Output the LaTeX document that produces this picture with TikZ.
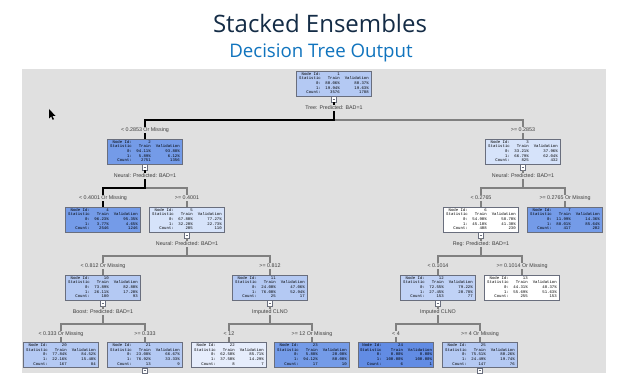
\documentclass[tikz,border=0pt]{standalone}
\usepackage{fontspec}
\setmainfont{Liberation Sans}
\newfontfamily\titlefont{Open Sans}
\newfontfamily\tabfont{Liberation Mono}
\definecolor{panel}{RGB}{224,224,224}
\definecolor{titlec}{RGB}{20,44,70}
\definecolor{subc}{RGB}{16,116,190}
\definecolor{labelc}{RGB}{60,60,60}
\definecolor{linec}{RGB}{128,128,128}
\definecolor{bordc}{RGB}{105,110,125}
\definecolor{cdarker}{RGB}{98,140,228}
\definecolor{cdark}{RGB}{116,155,232}
\definecolor{cmid}{RGB}{180,201,243}
\definecolor{cmidb}{RGB}{192,210,246}
\definecolor{clight}{RGB}{214,227,250}
\definecolor{cvlight}{RGB}{230,237,252}
\newcommand{\stats}[7]{\tabfont\fontsize{3pt}{3.45pt}\selectfont\begin{tabular}{@{}r@{\hspace{3.4pt}}r@{\hspace{3.75pt}}r@{}}Node Id: & #1 & \\ Statistic & Train & Validation\\ 0: & #2 & #3\\ 1: & #4 & #5\\ Count: & #6 & #7\end{tabular}}
\tikzset{
  tbox/.style={draw=bordc, line width=0.45pt, minimum width=56.25pt, minimum height=18.75pt, inner sep=0.4pt, text=black},
  sqr/.style={draw=bordc, fill=white, minimum size=4pt, inner sep=0pt, line width=0.35pt, anchor=north,
    path picture={\draw[line width=0.35pt, bordc] ([xshift=0.9pt]path picture bounding box.west) -- ([xshift=-0.9pt]path picture bounding box.east);}},
  thk/.style={line width=1.8pt, black},
  thn/.style={line width=0.8pt, linec},
  lbl/.style={fill=panel, inner sep=0.6pt, font=\fontsize{4pt}{4.5pt}\selectfont, text=labelc},
}
\begin{document}
\begin{tikzpicture}[x=0.75pt,y=-0.75pt]
\useasboundingbox (0,0) rectangle (627,388);
\fill[white] (0,0) rectangle (627,388);
\node[font=\titlefont\fontsize{18pt}{20pt}\selectfont, text=titlec, anchor=base, inner sep=0] (title) at (320,33) {Stacked Ensembles};
\node[font=\titlefont\fontsize{14pt}{16pt}\selectfont, text=subc, anchor=base, inner sep=0] (subtitle) at (321,58) {Decision Tree Output};
\fill[panel] (22,69) rectangle (606,373);
% cursor
\fill[black] (49,109) -- (49,118.5) -- (51.2,116.5) -- (52.7,119.8) -- (54,119.2) -- (52.5,116) -- (55.5,116) -- cycle;
% boxes
\node[tbox, fill=cmid] (n1) at (334,83.5) {\stats{1}{80.06\%}{80.37\%}{19.94\%}{19.63\%}{3576}{1788}};
\node[tbox, fill=cdark] (n2) at (145,151.5) {\stats{2}{94.11\%}{93.88\%}{5.89\%}{6.12\%}{2751}{1356}};
\node[tbox, fill=clight] (n3) at (523,151.5) {\stats{3}{33.21\%}{37.96\%}{66.79\%}{62.04\%}{825}{432}};
\node[tbox, fill=cdark] (n4) at (103,219.5) {\stats{4}{96.23\%}{95.35\%}{3.77\%}{4.65\%}{2546}{1246}};
\node[tbox, fill=clight] (n5) at (187,219.5) {\stats{5}{67.80\%}{77.27\%}{32.20\%}{22.73\%}{205}{110}};
\node[tbox, fill=white] (n6) at (481,219.5) {\stats{6}{54.90\%}{58.70\%}{45.10\%}{41.30\%}{408}{230}};
\node[tbox, fill=cdark] (n7) at (565,219.5) {\stats{7}{11.99\%}{14.36\%}{88.01\%}{85.64\%}{417}{202}};
\node[tbox, fill=cmid] (n10) at (103,287.5) {\stats{10}{73.89\%}{82.80\%}{26.11\%}{17.20\%}{180}{93}};
\node[tbox, fill=cmid] (n11) at (270,287.5) {\stats{11}{24.00\%}{47.06\%}{76.00\%}{52.94\%}{25}{17}};
\node[tbox, fill=cmidb] (n12) at (438,287.5) {\stats{12}{72.55\%}{79.22\%}{27.45\%}{20.78\%}{153}{77}};
\node[tbox, fill=white] (n13) at (522,287.5) {\stats{13}{44.31\%}{48.37\%}{55.69\%}{51.63\%}{255}{153}};
\node[tbox, fill=cmid] (n20) at (61,355) {\stats{20}{77.84\%}{84.52\%}{22.16\%}{15.48\%}{167}{84}};
\node[tbox, fill=cmid] (n21) at (145,355) {\stats{21}{23.08\%}{66.67\%}{76.92\%}{33.33\%}{13}{9}};
\node[tbox, fill=cvlight] (n22) at (229,355) {\stats{22}{62.50\%}{85.71\%}{37.50\%}{14.29\%}{8}{7}};
\node[tbox, fill=cdark] (n23) at (312,355) {\stats{23}{5.88\%}{20.00\%}{94.12\%}{80.00\%}{17}{10}};
\node[tbox, fill=cdarker] (n24) at (396,355) {\stats{24}{0.00\%}{0.00\%}{100.00\%}{100.00\%}{6}{1}};
\node[tbox, fill=cmid] (n25) at (480,355) {\stats{25}{75.51\%}{80.26\%}{24.49\%}{19.74\%}{147}{76}};
% expand squares
\foreach \k in {1,2,3,5,6,10,11,12,21,25} \node[sqr] (sq\k) at (n\k.south) {};
% junctions
\coordinate (j1) at (334,120);
\coordinate (j2) at (145,188);
\coordinate (j3) at (523,188);
\coordinate (j5) at (187,256);
\coordinate (j6) at (481,256);
\coordinate (j10) at (103,324);
\coordinate (j11) at (270,324);
\coordinate (j12) at (438,324);
% connectors
\draw[thn] (j1) -| (n3.north);
\draw[thk] (sq1.south) -- (j1) -| (n2.north);
\draw[thn] (j2) -| (n5.north);
\draw[thk] (sq2.south) -- (j2) -| (n4.north);
\draw[thn] (sq3.south) -- (j3) -| (n6.north);
\draw[thn] (j3) -| (n7.north);
\draw[thn] (sq5.south) -- (j5) -| (n10.north);
\draw[thn] (j5) -| (n11.north);
\draw[thn] (sq6.south) -- (j6) -| (n12.north);
\draw[thn] (j6) -| (n13.north);
\draw[thn] (sq10.south) -- (j10) -| (n20.north);
\draw[thn] (j10) -| (n21.north);
\draw[thn] (sq11.south) -- (j11) -| (n22.north);
\draw[thn] (j11) -| (n23.north);
\draw[thn] (sq12.south) -- (j12) -| (n24.north);
\draw[thn] (j12) -| (n25.north);
% split variable labels
\node[lbl] (s1) at (334,108) {Tree: Predicted: BAD=1};
\node[lbl] (s2) at (145,176) {Neural: Predicted: BAD=1};
\node[lbl] (s3) at (523,176) {Neural: Predicted: BAD=1};
\node[lbl] (s5) at (187,244) {Neural: Predicted: BAD=1};
\node[lbl] (s6) at (481,244) {Reg: Predicted: BAD=1};
\node[lbl] (s10) at (103,312) {Boost: Predicted: BAD=1};
\node[lbl] (s11) at (270,312) {Imputed CLNO};
\node[lbl] (s12) at (438,312) {Imputed CLNO};
% condition labels
\node[lbl] (c2) at (145,130) {< 0.2853 Or Missing};
\node[lbl] (c3) at (523,130) {>= 0.2853};
\node[lbl] (c4) at (103,198) {< 0.4001 Or Missing};
\node[lbl] (c5) at (187,198) {>= 0.4001};
\node[lbl] (c6) at (481,198) {< 0.2765};
\node[lbl] (c7) at (565,198) {>= 0.2765 Or Missing};
\node[lbl] (c10) at (103,266) {< 0.812 Or Missing};
\node[lbl] (c11) at (270,266) {>= 0.812};
\node[lbl] (c12) at (438,266) {< 0.1014};
\node[lbl] (c13) at (522,266) {>= 0.1014 Or Missing};
\node[lbl] (c20) at (61,334) {< 0.333 Or Missing};
\node[lbl] (c21) at (145,334) {>= 0.333};
\node[lbl] (c22) at (229,334) {< 12};
\node[lbl] (c23) at (312,334) {>= 12 Or Missing};
\node[lbl] (c24) at (396,334) {< 4};
\node[lbl] (c25) at (480,334) {>= 4 Or Missing};
\end{tikzpicture}
\end{document}
